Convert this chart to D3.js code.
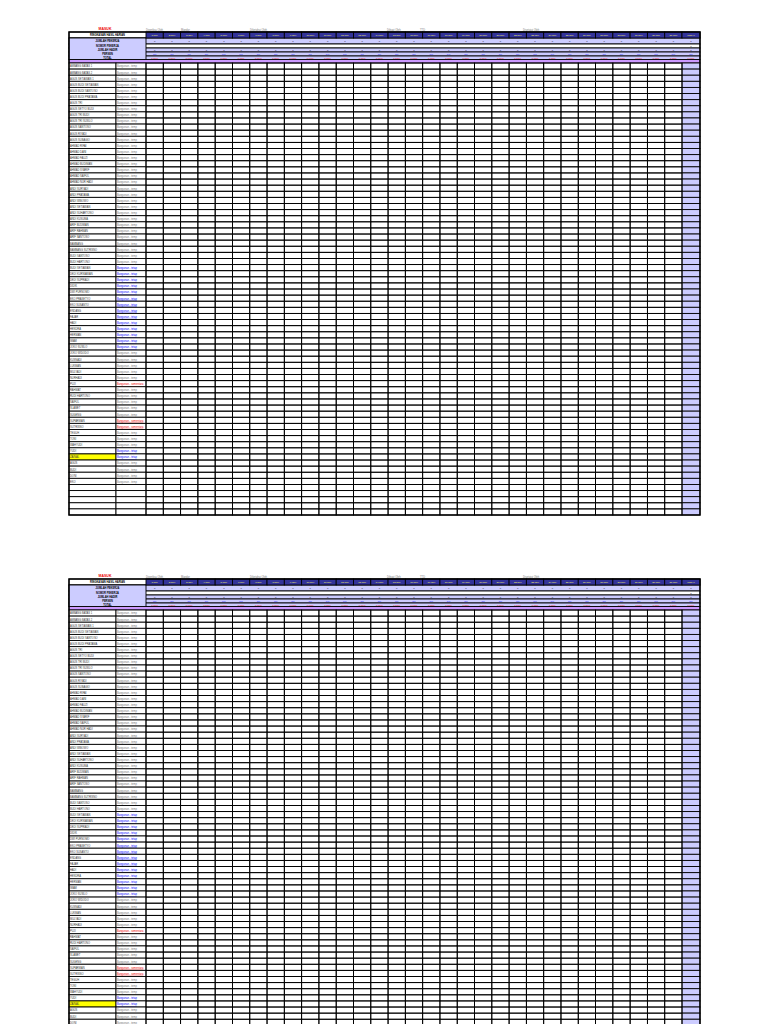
<!DOCTYPE html>
<html>
<head>
<meta charset="utf-8">
<script src="https://cdn.jsdelivr.net/npm/d3@7"></script>
<style>
body { margin:0; background:#fff; }
text { font-family: "Liberation Sans", Arial, sans-serif; }
</style>
</head>
<body>
<div id="chart-area"></div>
<script>
// data
var days = d3.range(1, 32).map(function(d){ return d + "-Nov"; });
var topNotes = ["Diperiksa Oleh", "Mandor", "Diketahui Oleh", "Dibuat Oleh", "TTD", "Disetujui Oleh"];
var headerLabels = ["RINGKASAN HASIL HARIAN", "JUMLAH PEKERJA", "NOMOR PEKERJA", "JUMLAH HADIR", "PERSEN", "TOTAL"];
var names = ["AMBANG BATAS 1","AMBANG BATAS 2","AGUS SETIAWAN 1","AGUS BUDI SETIAWAN","AGUS BUDI SANTOSO","AGUS BUDI PRATAMA",
  "AGUS TRI","AGUS SETYO BUDI","AGUS TRI BUDI","AGUS TRI SUSILO","AGUS SANTOSO","AGUS RIYADI","AGUS SUBAGIO","AHMAD RIFAI",
  "AHMAD DANI","AHMAD FAUZI","AHMAD BUDIMAN","AHMAD SYARIF","AHMAD SAIFUL","AHMAD NUR HADI","ANDI SURYADI","ANDI PRATAMA",
  "ANDI WIBOWO","ANDI SETIAWAN","ANDI SUHARTONO","ANDI KUSUMA","ARIF BUDIMAN","ARIF RAHMAN","ARIF SANTOSO","BAMBANG",
  "BAMBANG SUTRISNO","BUDI SANTOSO","BUDI HARTONO","BUDI SETIAWAN","DEDI KURNIAWAN","DEDI SUPRIADI","DIDIK","DWI PURNOMO",
  "EKO PRASETYO","EKO SUSANTO","ENDANG","FAJAR","HADI","HENDRA","HERMAN","IMAM","JOKO SUSILO","JOKO WIDODO","KUSNADI",
  "LUKMAN","MULYADI","NURHADI","PUJI","RAHMAT","RUDI HARTONO","SAIFUL","SLAMET","SUGENG","SUPARMAN","SUTRISNO","TEGUH",
  "TONI","WAHYUDI","YUDI","ZAINAL","AGUS","BUDI","DONI","EKO"];
var blueRows = [33,34,35,36,37,38,39,40,41,42,43,44,45,46,63,64];
var redRows = [52,58,59];
var yellowRow = 64;
var nRows = 74;

var W = 768, H = 1024;
var svg = d3.select("#chart-area").append("svg").attr("width", W).attr("height", H);

var x0 = 69, xName = 116, xDay0 = 146, xTot = 682, xEnd = 700;
var x = d3.scaleBand().domain(days).range([xDay0, xTot]);
var sw = 0.9;

function drawSheet(oy) {
  var g = svg.append("g").attr("transform", "translate(0," + oy + ")");
  var headY = [32, 38, 44, 48, 52, 56, 59.5, 63];
  var rowY = d3.scaleBand().domain(d3.range(nRows)).range([63, 515]);

  g.append("text").attr("x", 105).attr("y", 30).attr("font-size", 3.5).attr("fill", "#e00").attr("font-weight", "bold")
    .attr("text-anchor", "middle").text("MASUK");
  var noteX = [146, 181, 250, 387, 420, 523];
  topNotes.forEach(function(t, i){
    g.append("text").attr("x", noteX[i]).attr("y", 31).attr("font-size", 2.6).attr("fill", "#777").text(t);
  });

  var hFill = ["#ffffff", "#ccccff", "#ffffff", "#ccccff", "#ccccff", "#ccccff", "#cc99ff"];
  for (var r = 0; r < 7; r++) {
    g.append("rect").attr("x", x0).attr("y", headY[r]).attr("width", xEnd - x0).attr("height", headY[r+1] - headY[r])
      .attr("fill", hFill[r]).attr("stroke", "#000").attr("stroke-width", sw);
  }
  g.append("rect").attr("x", x0).attr("y", 38).attr("width", xDay0 - x0).attr("height", 21.5).attr("fill", "#ccccff").attr("stroke", "#000").attr("stroke-width", sw);
  headerLabels.forEach(function(t, i){
    g.append("text").attr("x", (x0 + xDay0) / 2).attr("y", (headY[i] + headY[i+1]) / 2 + 1).attr("font-size", 2.6)
      .attr("font-weight", "bold").attr("text-anchor", "middle").attr("fill", "#000").text(t);
  });
  var cols = days.concat(["TOTAL"]);
  cols.forEach(function(d, i){
    var cx = i < days.length ? x(d) : xTot, cw = i < days.length ? x.bandwidth() : xEnd - xTot;
    g.append("rect").attr("x", cx).attr("y", 32).attr("width", cw).attr("height", 6).attr("fill", "#333399").attr("stroke", "#000").attr("stroke-width", sw);
    g.append("text").attr("x", cx + cw/2).attr("y", 36).attr("font-size", 2.4).attr("fill", "#ffff66").attr("text-anchor", "middle").text(d);
    g.append("text").attr("x", cx + cw/2).attr("y", 42.3).attr("font-size", 2.4).attr("text-anchor", "middle").text("0");
    g.append("text").attr("x", cx + cw/2).attr("y", 51.3).attr("font-size", 2.4).attr("text-anchor", "middle").text("0");
    g.append("text").attr("x", cx + cw/2).attr("y", 55).attr("font-size", 2.4).attr("fill", "#00f").attr("text-anchor", "middle").text("0%");
    g.append("text").attr("x", cx + cw/2).attr("y", 58.6).attr("font-size", 2.4).attr("fill", "#e00").attr("text-anchor", "middle").text("0.00%");
  });
  g.append("text").attr("x", xTot + (xEnd - xTot)/2).attr("y", 47).attr("font-size", 2.4).attr("text-anchor", "middle").text("0");

  var rows = g.selectAll("g.row").data(d3.range(nRows)).enter().append("g").attr("class", "row");
  rows.append("rect").attr("x", x0).attr("y", function(d){ return rowY(d); }).attr("width", xName - x0).attr("height", rowY.bandwidth())
    .attr("fill", function(d){ return d === yellowRow ? "#ffff00" : "#fff"; }).attr("stroke", "#000").attr("stroke-width", sw);
  rows.append("rect").attr("x", xName).attr("y", function(d){ return rowY(d); }).attr("width", xDay0 - xName).attr("height", rowY.bandwidth())
    .attr("fill", "#fff").attr("stroke", "#000").attr("stroke-width", sw);
  rows.append("rect").attr("x", xTot).attr("y", function(d){ return rowY(d); }).attr("width", xEnd - xTot).attr("height", rowY.bandwidth())
    .attr("fill", "#ccccff").attr("stroke", "#000").attr("stroke-width", sw);
  days.forEach(function(day){
    rows.append("rect").attr("x", x(day)).attr("y", function(d){ return rowY(d); }).attr("width", x.bandwidth()).attr("height", rowY.bandwidth())
      .attr("fill", "none").attr("stroke", "#000").attr("stroke-width", sw);
  });
  rows.filter(function(d){ return d < names.length; }).append("text")
    .attr("x", x0 + 1).attr("y", function(d){ return rowY(d) + rowY.bandwidth() - 1.7; })
    .attr("font-size", 2.6).attr("fill", "#333").text(function(d){ return names[d]; });
  rows.filter(function(d){ return d < names.length; }).append("text")
    .attr("x", xName + 1).attr("y", function(d){ return rowY(d) + rowY.bandwidth() - 1.7; })
    .attr("font-size", 2.6)
    .attr("fill", function(d){ return blueRows.indexOf(d) >= 0 ? "#00f" : redRows.indexOf(d) >= 0 ? "#e00" : "#777"; })
    .attr("text-decoration", function(d){ return blueRows.indexOf(d) >= 0 || redRows.indexOf(d) >= 0 ? "underline" : null; })
    .text(function(d){ return redRows.indexOf(d) >= 0 ? "Bangunan - sementara" : blueRows.indexOf(d) >= 0 ? "Bangunan - tetap" : "Bangunan - temp"; });
  g.append("rect").attr("x", x0).attr("y", 32).attr("width", xEnd - x0).attr("height", 483).attr("fill", "none").attr("stroke", "#000").attr("stroke-width", 1.4);
}

drawSheet(0);
drawSheet(547);
</script>
</body>
</html>
